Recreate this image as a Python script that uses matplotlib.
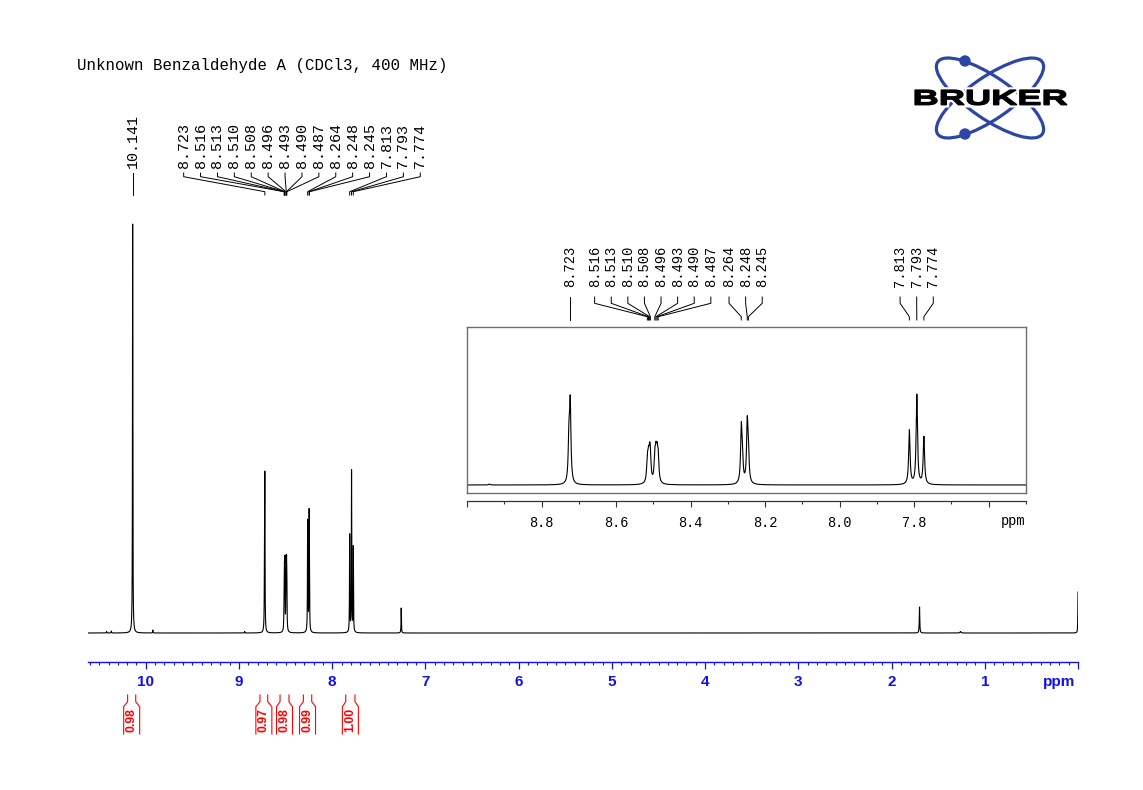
import numpy as np
import matplotlib
matplotlib.use("Agg")
import matplotlib.pyplot as plt
import matplotlib.patheffects as pe
from matplotlib.lines import Line2D
from matplotlib.patches import Ellipse, Circle, PathPatch
from matplotlib.textpath import TextPath
from matplotlib.font_manager import FontProperties
from matplotlib.transforms import Affine2D, blended_transform_factory
from matplotlib.ticker import MultipleLocator

# --- spectrum data ---
title = "Unknown Benzaldehyde A (CDCl3, 400 MHz)"

line_ppm = [10.141, 8.7265, 8.723,
            8.516, 8.513, 8.510, 8.508, 8.496, 8.493, 8.490, 8.487,
            8.264, 8.261, 8.248, 8.245,
            7.813, 7.793, 7.774,
            7.26, 1.70, 0.00,
            10.42, 10.37, 9.925, 8.94, 1.26]
line_height = [409, 75, 140,
               37, 37, 37, 37, 42, 42, 42, 42,
               97, 39, 103, 51,
               97, 161, 85,
               25, 26, 41,
               1.5, 2, 3, 1.5, 1.5]
line_width = [0.0022] * 19 + [0.003, 0.0022, 0.0022, 0.0022, 0.0022, 0.0022, 0.006]

main_labels = ["10.141", "8.723", "8.516", "8.513", "8.510", "8.508", "8.496",
               "8.493", "8.490", "8.487", "8.264", "8.248", "8.245",
               "7.813", "7.793", "7.774"]
inset_labels = main_labels[1:]

int_from = [10.195, 8.775, 8.560, 8.310, 7.855]
int_to = [10.108, 8.692, 8.464, 8.220, 7.756]
int_values = [0.98, 0.97, 0.98, 0.99, 1.00]

main_ticks = list(range(0, 11))
main_ticklabels = [""] + [str(t) for t in main_ticks[1:]]
inset_ticks = [9.0, 8.8, 8.6, 8.4, 8.2, 8.0, 7.8, 7.6]
inset_ticklabels = ["", "8.8", "8.6", "8.4", "8.2", "8.0", "7.8", ""]

# --- figure helpers (pixel layout) ---
W, H = 1143, 790
fig = plt.figure(figsize=(W / 100, H / 100), dpi=100)
BLUE = "#1010f0"
MONO = "Liberation Mono"


def fy(y):
    return 1 - y / H


def box(x0, y0, x1, y1):
    return [x0 / W, 1 - y1 / H, (x1 - x0) / W, (y1 - y0) / H]


def spectrum(x):
    y = np.zeros_like(x)
    for p, h, w in zip(line_ppm, line_height, line_width):
        y += h * w ** 2 / ((x - p) ** 2 + w ** 2)
    return y


def spread(px, gap):
    # Bruker-style: overlapping labels are spread evenly round their mean
    groups = [[p] for p in px]
    merged = True
    while merged:
        merged = False
        spans = []
        for g in groups:
            c, n = np.mean(g), len(g)
            spans.append((c - (n - 1) / 2 * gap, c + (n - 1) / 2 * gap))
        for i in range(len(groups) - 1):
            if spans[i][1] + gap > spans[i + 1][0]:
                groups[i] = groups[i] + groups.pop(i + 1)
                merged = True
                break
    out = []
    for g in groups:
        c, n = np.mean(g), len(g)
        out += [c + (k - (n - 1) / 2) * gap for k in range(n)]
    return out


def peak_labels(ax, labels, gap, y_text, ys, size):
    ppm = np.array([float(s) for s in labels])
    px = ax.transData.transform(np.c_[ppm, np.zeros(len(ppm))])[:, 0]
    lx = spread(list(px), gap)
    for s, p, l in zip(labels, px, lx):
        fig.text(l / W, fy(y_text), s, rotation=90, ha="center", va="bottom",
                 family=MONO, size=size)
        fig.add_artist(Line2D([l / W, l / W, p / W, p / W], [fy(v) for v in ys],
                              color="black", lw=0.7))


# --- title ---
fig.text(77 / W, fy(70), title, family=MONO, size=11.3, va="baseline", ha="left")

# --- main spectrum ---
ax = fig.add_axes(box(88, 200, 1078, 662))
x = np.linspace(10.62, 0.0, 160000)
ax.plot(x, spectrum(x), color="black", lw=0.8)
ax.set_xlim(10.62, 0.0)
ax.set_ylim(-29, 433)
for s in ["top", "left", "right"]:
    ax.spines[s].set_visible(False)
ax.spines["bottom"].set_color(BLUE)
ax.spines["bottom"].set_linewidth(1.0)
ax.set_yticks([])
ax.set_xticks(main_ticks, main_ticklabels)
ax.xaxis.set_minor_locator(MultipleLocator(0.1))
ax.tick_params(axis="x", which="major", length=5, width=0.9, color=BLUE,
               labelcolor=BLUE, pad=4.5)
ax.tick_params(axis="x", which="minor", length=1.8, width=0.8, color=BLUE)
for t in ax.get_xticklabels():
    t.set_fontfamily("Liberation Sans")
    t.set_fontweight("bold")
    t.set_fontsize(11)
trans_main = blended_transform_factory(ax.transData, fig.transFigure)
ax.text(0.03, fy(682), "ppm", transform=trans_main, ha="right", va="center",
        color=BLUE, family="Liberation Sans", weight="bold", size=11)

peak_labels(ax, main_labels, 16.9, 168.3, [173, 176.7, 191.7, 195], 10.8)

# --- integrals ---
for a, b, v in zip(int_from, int_to, int_values):
    xa = ax.transData.transform((a, 0))[0]
    xb = ax.transData.transform((b, 0))[0]
    c = (xa + xb) / 2
    for s0, s1 in [(xa, c - 8), (xb, c + 8)]:
        fig.add_artist(Line2D([s0 / W, s0 / W, s1 / W, s1 / W],
                              [fy(695), fy(701.7), fy(706.7), fy(734)],
                              color="red", lw=0.8))
    fig.text(c / W, fy(720), f"{v:.2f}", rotation=90, ha="center", va="center",
             color="red", family="Liberation Sans", weight="bold", size=8.8)

# --- inset ---
axi = fig.add_axes(box(467, 327, 1026, 493))
xi = np.linspace(9.0, 7.5, 30000)
axi.plot(xi, spectrum(xi), color="black", lw=0.8)
axi.set_xlim(9.0, 7.5)
axi.set_ylim(-14.4, 283.6)
axi.set_xticks([])
axi.set_yticks([])
for s in axi.spines.values():
    s.set_color("#6e6e6e")
    s.set_linewidth(1.0)

axs = fig.add_axes(box(467, 500, 1026, 501))
axs.set_xlim(9.0, 7.5)
axs.set_yticks([])
for s in ["top", "left", "right"]:
    axs.spines[s].set_visible(False)
axs.spines["bottom"].set_color("#333333")
axs.spines["bottom"].set_linewidth(0.9)
axs.patch.set_visible(False)
axs.set_xticks(inset_ticks, inset_ticklabels)
axs.xaxis.set_minor_locator(MultipleLocator(0.1))
axs.tick_params(axis="x", which="major", length=4.2, width=0.8, color="#333333", pad=6.5)
axs.tick_params(axis="x", which="minor", length=2.0, width=0.8, color="#333333")
for t in axs.get_xticklabels():
    t.set_fontfamily(MONO)
    t.set_fontsize(9.8)
trans_in = blended_transform_factory(axs.transData, fig.transFigure)
axs.text(7.535, fy(521), "ppm", transform=trans_in, ha="center", va="center",
         family=MONO, size=9.8)

peak_labels(axi, inset_labels, 16.6, 286.7, [297, 303.3, 316.7, 320], 9.9)

# --- Bruker logo ---
axl = fig.add_axes(box(900, 45, 1080, 150))
axl.set_xlim(900, 1080)
axl.set_ylim(150, 45)
axl.set_axis_off()
LOGO = "#2d46a6"
for ang in (34.6, -34.6):
    axl.add_patch(Ellipse((990, 98), 127, 42, angle=ang, fill=False,
                          edgecolor=LOGO, lw=2.3))
axl.add_patch(Circle((965, 61), 5, color=LOGO))
axl.add_patch(Circle((965, 134), 5, color=LOGO))
tp = TextPath((0, 0), "BRUKER", size=20,
              prop=FontProperties(family="Liberation Sans", weight="bold"))
ext = tp.get_extents()
sx = (1067 - 915) / ext.width
sy = (105 - 90) / ext.height
tr = Affine2D().translate(-ext.x0, -ext.y0).scale(sx, -sy).translate(915, 105)
logo_txt = PathPatch(tr.transform_path(tp), facecolor="black", edgecolor="black", lw=0.9)
logo_txt.set_path_effects([pe.Stroke(linewidth=4, foreground="white"), pe.Normal()])
axl.add_patch(logo_txt)

fig.savefig("out.png", dpi=100)
